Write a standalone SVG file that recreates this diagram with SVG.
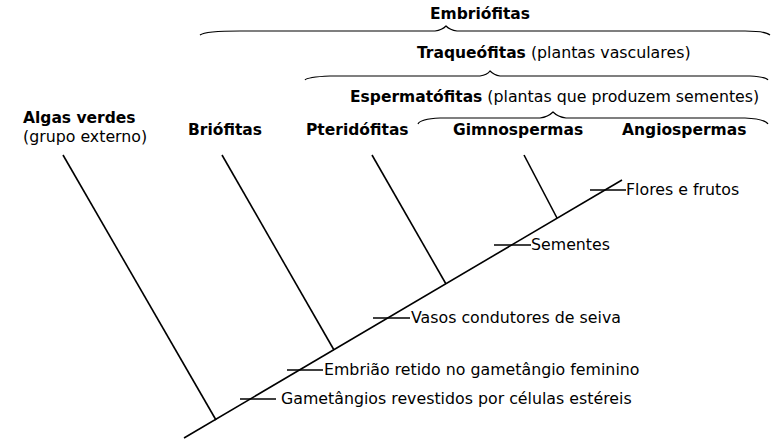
<svg xmlns="http://www.w3.org/2000/svg" width="778" height="444" viewBox="0 0 778 444">
<style>
text{font-family:"DejaVu Sans",Verdana,sans-serif;font-size:15.8px;fill:#000}
.b{font-weight:bold;font-size:15.5px}
line,path{stroke:#000;stroke-width:1.6;fill:none}
.br{stroke-width:1.2}
</style>
<rect width="778" height="444" fill="#fff"/>
<g id="connectors">
<line x1="184" y1="438" x2="622" y2="180"/>
<line x1="63" y1="155" x2="216" y2="420"/>
<line x1="222" y1="155" x2="334" y2="350"/>
<line x1="372" y1="155" x2="446" y2="284"/>
<line x1="524" y1="155" x2="557" y2="218"/>
<line x1="240" y1="399" x2="276" y2="399"/>
<line x1="287" y1="370" x2="323" y2="370"/>
<line x1="373" y1="318" x2="410" y2="318"/>
<line x1="494" y1="245" x2="531" y2="245"/>
<line x1="590" y1="190" x2="626" y2="190"/>
<path class="br" d="M200 35 Q205 31 240 31 L435 31 Q442 30 446 26 Q450 30 457 31 L745 31 Q765 31 770 35"/>
<path class="br" d="M305 80 Q307 77 330 76 L480 76 Q487 75 490 71 Q494 75 500 76 L750 76 Q766 77 768 80"/>
<path class="br" d="M418 124 Q420 119 440 118 L540 118 Q548 117 553 112 Q558 117 566 118 L745 118 Q765 119 768 124"/>
</g>
<g id="embriofitas"><text class="b" x="480" y="19" text-anchor="middle">Embriófitas</text></g>
<g id="traqueofitas"><text x="417" y="58"><tspan class="b">Traqueófitas</tspan> (plantas vasculares)</text></g>
<g id="espermatofitas"><text x="350" y="102"><tspan class="b">Espermatófitas</tspan> (plantas que produzem sementes)</text></g>
<g id="algas"><text class="b" x="23" y="123">Algas verdes</text><text x="23" y="142">(grupo externo)</text></g>
<g id="briofitas"><text class="b" x="188" y="135">Briófitas</text></g>
<g id="pteridofitas"><text class="b" x="306" y="135">Pteridófitas</text></g>
<g id="gimnospermas"><text class="b" x="453" y="135">Gimnospermas</text></g>
<g id="angiospermas"><text class="b" x="622" y="135">Angiospermas</text></g>
<g id="c1"><text x="281" y="404">Gametângios revestidos por células estéreis</text></g>
<g id="c2"><text x="324" y="375">Embrião retido no gametângio feminino</text></g>
<g id="c3"><text x="411" y="323">Vasos condutores de seiva</text></g>
<g id="c4"><text x="531" y="250">Sementes</text></g>
<g id="c5"><text x="626" y="195">Flores e frutos</text></g>
</svg>
